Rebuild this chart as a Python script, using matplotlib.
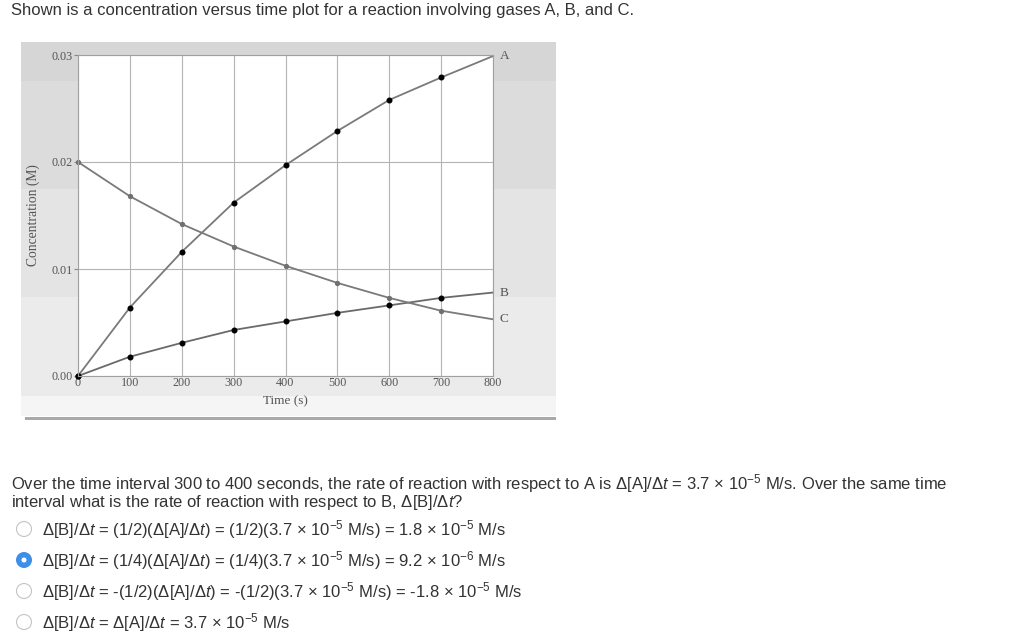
import matplotlib
matplotlib.use("Agg")
from matplotlib import pyplot as plt
from matplotlib.patches import Rectangle, Circle

plt.rcParams['font.family'] = ['Liberation Sans', 'DejaVu Sans']
plt.rcParams['mathtext.fontset'] = 'custom'
plt.rcParams['mathtext.rm'] = 'Liberation Sans'
plt.rcParams['mathtext.it'] = 'Liberation Sans:italic'

# data
times = [0, 100, 200, 300, 400, 500, 600, 700, 800]
conc_A = [0.0, 0.0064, 0.0116, 0.0162, 0.0197, 0.0229, 0.0258, 0.0279, 0.0299]
conc_B = [0.0, 0.0018, 0.0031, 0.0043, 0.0051, 0.0059, 0.0066, 0.0073, 0.0078]
conc_C = [0.0200, 0.0168, 0.0142, 0.0121, 0.0103, 0.0087, 0.0073, 0.0061, 0.0053]
x_ticks = [0, 100, 200, 300, 400, 500, 600, 700, 800]
y_ticks = [0.0, 0.01, 0.02, 0.03]

title = "Shown is a concentration versus time plot for a reaction involving gases A, B, and C."
question = ["Over the time interval 300 to 400 seconds, the rate of reaction with respect to A is "
            "Δ[A]/Δ$t$ = 3.7 × 10$^{-5}$ M/s. Over the same time",
            "interval what is the rate of reaction with respect to B, Δ[B]/Δ$t$?"]
answers = ["Δ[B]/Δ$t$ = (1/2)(Δ[A]/Δ$t$) = (1/2)(3.7 × 10$^{-5}$ M/s) = 1.8 × 10$^{-5}$ M/s",
           "Δ[B]/Δ$t$ = (1/4)(Δ[A]/Δ$t$) = (1/4)(3.7 × 10$^{-5}$ M/s) = 9.2 × 10$^{-6}$ M/s",
           "Δ[B]/Δ$t$ = -(1/2)(Δ[A]/Δ$t$) = -(1/2)(3.7 × 10$^{-5}$ M/s) = -1.8 × 10$^{-5}$ M/s",
           "Δ[B]/Δ$t$ = Δ[A]/Δ$t$ = 3.7 × 10$^{-5}$ M/s"]
selected = 1

W, H = 1024, 636
fig = plt.figure(figsize=(W / 100, H / 100), dpi=100)

# page layer in pixel coordinates
bg = fig.add_axes([0, 0, 1, 1])
bg.set_xlim(0, W)
bg.set_ylim(H, 0)
bg.axis('off')

# gray panel behind the chart
bands = [(42, 81, '#d6d6d6'), (81, 189, '#dcdcdc'), (189, 297, '#e4e4e4'),
         (297, 396, '#ebebeb'), (396, 416, '#f5f5f5')]
for y0, y1, col in bands:
    bg.add_patch(Rectangle((21, y0), 535, y1 - y0, color=col, lw=0))
bg.add_patch(Rectangle((25, 417), 531, 3, color='#a9a9a9', lw=0))

txt = dict(fontsize=12, color='#333333', va='center')
bg.text(11, 11, title, **txt)
bg.text(11, 484, question[0], **txt)
bg.text(11, 503, question[1], **txt)
for i, ans in enumerate(answers):
    yc = 529 + i * 31
    if i == selected:
        bg.add_patch(Circle((24, yc), 8, color='#3d8fe8', lw=0))
        bg.add_patch(Circle((24, yc), 2.5, color='white', lw=0))
    else:
        bg.add_patch(Circle((24, yc), 7.5, facecolor='white', edgecolor='#c4c4c4', lw=0.8))
    bg.text(42, yc + 1, ans, **txt)

# the chart itself
left, right, top, bottom = 78, 493, 55, 376
ax = fig.add_axes([left / W, 1 - bottom / H, (right - left) / W, (bottom - top) / H])
ax.set_facecolor('white')
ax.set_xlim(0, 800)
ax.set_ylim(0, 0.03)
ax.set_xticks(x_ticks)
ax.set_yticks(y_ticks)
ax.set_xticklabels([str(t) for t in x_ticks])
ax.set_yticklabels(["%.2f" % v for v in y_ticks])
ax.grid(True, color='#b4b4b4', lw=0.8)
ax.set_axisbelow(True)
for sp in ax.spines.values():
    sp.set_color('#a0a0a0')
    sp.set_linewidth(0.8)
ax.tick_params(axis='x', length=0, pad=1, labelsize=8.7, labelcolor='#555555')
ax.tick_params(axis='y', length=3, width=0.8, color='#888888', pad=1, labelsize=8.7,
               labelcolor='#555555')
for lab in ax.get_xticklabels() + ax.get_yticklabels():
    lab.set_family('Liberation Serif')

ax.plot(times, conc_A, color='#7a7a7a', lw=1.3, clip_on=False)
ax.plot(times, conc_B, color='#6a6a6a', lw=1.3, clip_on=False)
ax.plot(times, conc_C, color='#7a7a7a', lw=1.3, clip_on=False)
ax.plot(times[:-1], conc_A[:-1], 'o', color='black', ms=3.3, clip_on=False)
ax.plot(times[:-1], conc_B[:-1], 'o', color='black', ms=3.3, clip_on=False)
ax.plot(times[:-1], conc_C[:-1], 'o', color='#707070', ms=2.8, clip_on=False)

for name, series in [('A', conc_A), ('B', conc_B), ('C', conc_C)]:
    ax.annotate(name, xy=(800, series[-1]), xytext=(5, 0), textcoords='offset points',
                va='center', ha='left', fontsize=9.5, color='#555555',
                family='Liberation Serif', annotation_clip=False)

ax.set_xlabel("Time (s)", family='Liberation Serif', fontsize=9.5, color='#555555', labelpad=4)
ax.set_ylabel("Concentration (M)", family='Liberation Serif', fontsize=9.8, color='#555555',
              labelpad=8)

fig.savefig("out.png", dpi=100)
